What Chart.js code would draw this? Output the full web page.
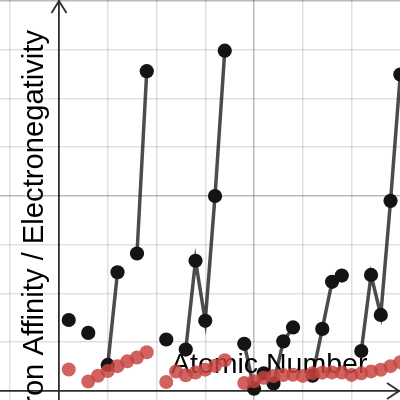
<!DOCTYPE html>
<html>
<head>
<meta charset="utf-8">
<script src="https://cdn.jsdelivr.net/npm/chart.js@4.4.1/dist/chart.umd.min.js"></script>
<style>
  html, body { margin: 0; padding: 0; background: #ffffff; }
  #wrap { width: 400px; height: 400px; position: relative; }
</style>
</head>
<body>
<div id="wrap"><canvas id="c"></canvas></div>
<script>
// ---- data ----
const atomicNumbers = [1,2,3,4,5,6,7,8,9,10,11,12,13,14,15,16,17,18,19,20,21,22,23,24,25,26,27,28,29,30,31,32,33,34,35,36];
// electron affinity, kJ/mol (null = no value, line breaks there)
const electronAffinity = [72.8,null,59.6,null,26.7,121.8,null,141,328,null,52.8,null,42.5,133.6,72,200,349,null,48.4,2.4,18.1,7.6,50.9,65.2,null,15.7,63.7,112,118.4,null,41,119,78,195,324.6,null];
// electronegativity (x10, same axis)
const electronegativity = [22,null,9.8,15.7,20.4,25.5,30.4,34.4,39.8,null,9.3,20,16.1,19,21.9,25.8,31.6,null,8.2,10,13.6,15.4,16.3,16.6,15.5,18.3,18.8,19.1,19,16.5,18.1,20.1,21.8,25.5,29.6,30];
const xGridValues = [-5,0,5,10,15,20,25,30];
const yGridValues = [0,50,100,150,200,250,300,350,400];
const xAxisTitle = 'Atomic Number';
const yAxisTitle = 'Electron Affinity / Electronegativity';

const eaPoints = atomicNumbers.map((z, i) => ({ x: z, y: electronAffinity[i] }));
const enPoints = atomicNumbers.map((z, i) => ({ x: z, y: electronegativity[i] }));

const FONT = "'Liberation Sans', Arial, sans-serif";

const labelsPlugin = {
  id: 'axisLabels',
  beforeDatasetsDraw(chart) {
    const c = chart.ctx;
    c.save();
    c.fillStyle = '#000';
    c.font = '28.5px ' + FONT;
    c.textBaseline = 'alphabetic';
    c.textAlign = 'left';
    c.fillText(xAxisTitle, 171, 373);
    c.font = '29.2px ' + FONT;
    c.translate(43, 30);
    c.rotate(-Math.PI / 2);
    c.textAlign = 'right';
    c.fillText(yAxisTitle, 0, 0);
    c.restore();
  }
};

const arrowPlugin = {
  id: 'axisArrows',
  afterDraw(chart) {
    const c = chart.ctx;
    const xs = chart.scales.x, ys = chart.scales.y;
    const x0 = xs.getPixelForValue(0);
    const y0 = ys.getPixelForValue(0);
    const a = chart.chartArea;
    c.save();
    c.strokeStyle = '#2e2e2e';
    c.lineWidth = 1.8;
    c.lineJoin = 'miter';
    c.beginPath();
    c.moveTo(x0 - 7.5, a.top + 13);
    c.lineTo(x0, a.top + 1);
    c.lineTo(x0 + 7.5, a.top + 13);
    c.stroke();
    c.beginPath();
    c.moveTo(a.right - 13, y0 - 8);
    c.lineTo(a.right - 1, y0);
    c.lineTo(a.right - 13, y0 + 8);
    c.stroke();
    c.restore();
  }
};

function scaleGrid(values, majorEvery) {
  return {
    display: true,
    drawTicks: false,
    color: (ctx) => {
      const v = ctx.tick ? ctx.tick.value : null;
      if (v === 0) return '#2e2e2e';
      if (Math.abs(v % majorEvery) < 1e-9) return 'rgba(0,0,0,0.27)';
      return 'rgba(0,0,0,0.12)';
    },
    lineWidth: (ctx) => {
      const v = ctx.tick ? ctx.tick.value : null;
      return v === 0 ? 1.8 : 1.5;
    }
  };
}

new Chart(document.getElementById('c'), {
  type: 'scatter',
  data: {
    datasets: [
      {
        label: 'Electronegativity',
        data: enPoints,
        order: 0,
        showLine: false,
        pointRadius: 7,
        pointBorderWidth: 0,
        pointBackgroundColor: 'rgba(199,68,64,0.84)',
        pointBorderColor: 'rgba(199,68,64,0.84)'
      },
      {
        label: 'Electron Affinity',
        data: eaPoints,
        order: 1,
        showLine: true,
        spanGaps: false,
        borderColor: 'rgba(0,0,0,0.7)',
        borderWidth: 3.5,
        pointRadius: 7.1,
        pointBorderWidth: 0,
        pointBackgroundColor: '#141414',
        pointBorderColor: '#141414'
      }
    ]
  },
  options: {
    responsive: true,
    maintainAspectRatio: false,
    animation: false,
    events: [],
    layout: { padding: 0, autoPadding: false },
    plugins: { legend: { display: false }, tooltip: { enabled: false } },
    scales: {
      x: {
        type: 'linear',
        min: -6.05,
        max: 34.97,
        afterBuildTicks: (s) => { s.ticks = xGridValues.map(v => ({ value: v })); },
        ticks: { display: false },
        border: { display: false },
        grid: scaleGrid(xGridValues, 20)
      },
      y: {
        type: 'linear',
        min: -9.23,
        max: 401,
        afterBuildTicks: (s) => { s.ticks = yGridValues.map(v => ({ value: v })); },
        ticks: { display: false },
        border: { display: false },
        grid: scaleGrid(yGridValues, 200)
      }
    }
  },
  plugins: [labelsPlugin, arrowPlugin]
});
</script>
</body>
</html>
